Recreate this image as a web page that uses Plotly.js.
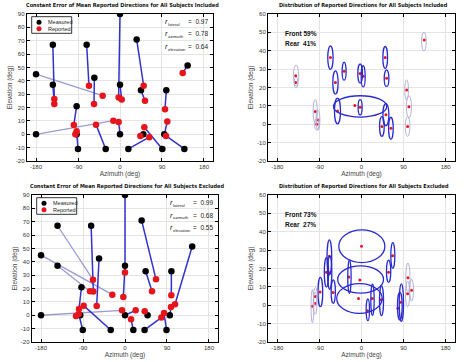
<!DOCTYPE html>
<html><head><meta charset="utf-8">
<script src="https://cdn.plot.ly/plotly-3.0.1.min.js"></script>
<style>html,body{margin:0;padding:0;background:#fff}#c{width:474px;height:362px}</style>
</head><body><div id="c"></div>
<script>
// ---------------- DATA ----------------
const xTicks = [-180, -90, 0, 90, 180];
const yTicksLeft = [-20, -10, 0, 10, 20, 30, 40, 50, 60, 70, 80, 90];
const yTicksRight = [-20, -10, 0, 10, 20, 30, 40, 50, 60];

// All subjects included
const inclMeasAz = [-180, -180, -144, -144, -93, -93, -90, -71.5, -55, -30.7, 0, 0, 0, 17.9, 35.7, 45, 50, 90.7, 95, 99.3, 138, 145];
const inclMeasEl = [0, 45, 67, 37, 21, 0, -11, 67, 42.3, -11, 90, 37, 0, -11, 71, 33, 0, -11, 0, 33, -11, 51.5];
const inclRepAz = [-14.3, -37.2, -140.8, -140.8, -99, -95.7, -93, -66.5, -55.7, -51.4, -2.9, 3.6, -2.9, 62.9, 50.7, 53.6, 43.6, 52.2, 101.4, 96.5, 98.6, 134.4];
const inclRepEl = [10.2, 28.9, 26.4, 22.7, 7, 0, 2.3, 36.3, 22.7, 7.2, 27.6, 26.1, 9.2, -2.2, 36.3, 25.1, -1.2, 5.2, 9.5, 18.7, -1.2, 45.8];
const inclR = ["0.97", "0.78", "0.64"];
const inclEllAz = [-140, -140, -99, -95.7, -93, -66.5, -55.7, -37.2, -51.4, -3, -2.9, -2.9, 3.6, 50.7, 53.6, 52.2, 43.6, 62.9, 96.5, 101.4, 98.6, 133.5];
const inclEllEl = [26.5, 22.7, 7, 0, 2.3, 36.3, 22.7, 28.9, 7.2, 9.7, 9.2, 27.6, 26.1, 36.3, 25.1, 5.2, -1.2, -2.2, 18.7, 9.5, -1.2, 45];
const inclEllRx = [5.7, 4, 4.5, 4.5, 4, 5.7, 5.7, 4.3, 6.4, 57, 4.3, 5, 4.3, 5, 5, 6.4, 5, 5, 4, 5.5, 5, 5];
const inclEllRy = [5.7, 3, 6.5, 3.3, 5.5, 6.4, 6.3, 4.9, 7, 5.8, 4.2, 5.2, 5.8, 6, 4.5, 6, 5.4, 6, 5.5, 6, 5.4, 5.1];

// All subjects excluded
const exclMeasAz = [-180, -180, -144.6, -144.6, -93.3, -96, -90.5, -72.6, -55.6, -30.6, 0, 0, 0, 17.8, 35.6, 44.2, 48.4, 42, 89, 96, 99.5, 144];
const exclMeasEl = [0, 45, 67, 37, 21, 0, -11, 67, 42.5, -11, 90, 37, 0, -11, 71, 33, 0, -11, -11, 0, 33, 51.5];
const exclRepAz = [-6.4, -27.2, -68.6, -75, -98.6, -105, -99.3, -67.9, -60.7, -88.6, 0, -3.6, 22.9, 12.9, 66.5, 57.9, 42.2, 77.9, 83.6, 98.6, 99.3, 107.2];
const exclRepEl = [3.7, 15.4, 26.6, 17.9, 4.7, -0.5, 1, 17.7, 7, 7.2, 32.1, 13.7, 3.7, -3, 26.9, 17.9, 3, -1.7, 1.7, 6.2, 15, 8.2];
const exclR = ["0.99", "0.68", "0.55"];
const exclEllAz = [0.7, -1.9, -4.4, -25.8, -68.7, -75, -68, -60.4, -88, -98.6, -105, -99.3, 13.5, 23.5, 42.8, 58, 67, 82, 85.3, 99.3, 98.6, 107.2];
const exclEllEl = [32.1, 14, 3.7, 15.5, 26.1, 17.9, 17.7, 7.4, 7.2, 4.7, -0.5, 1, -2.5, 3, 2.4, 18.5, 27.1, -0.5, 1.4, 15, 6.2, 8.2];
const exclEllRx = [49.3, 49, 48.6, 3.6, 5, 4.5, 4.5, 4.6, 5, 4, 3, 4, 3.6, 3.6, 4.3, 4.6, 4.3, 5, 4.6, 4.5, 4.5, 4];
const exclEllRy = [8.9, 7.4, 8.1, 9, 9.5, 8, 9, 6.4, 8, 5, 9, 6, 5.9, 8.5, 8.1, 6.1, 7, 7.5, 10.2, 8, 7, 6];

const rNames = ["lateral", "azimuth", "elevation"];

// ---------------- LAYOUT HELPERS ----------------
const W = 474, H = 362;
const px = p => p / W;
const py = p => 1 - p / H;
const BLUE = '#3232cc', LIGHT = '#9a9ad4', RED = '#e8141c';
const ELL_DARK = '#2a2ad2', ELL_LIGHT = '#b0a8d2';
const FONT = 'Liberation Sans, Arial, sans-serif';
const TFONT = 'Liberation Sans Narrow, DejaVu Sans Condensed, Arial Narrow, sans-serif';

const boxes = {
  tl: [26.7, 213.3, 14, 161],
  tr: [268, 455, 14, 161],
  bl: [31.7, 218.3, 195, 342],
  br: [268, 455, 195, 342]
};

function axX(b) {
  return {domain: [px(b[0]), px(b[1])], range: [-200, 200], tickmode: 'array', tickvals: xTicks,
    ticktext: xTicks.map(String), showgrid: true, gridcolor: '#e4e4e4', gridwidth: 1, zeroline: false,
    showline: true, linecolor: '#000', linewidth: 1, mirror: 'ticks', ticks: 'inside', ticklen: 3,
    tickcolor: '#000', tickfont: {size: 6, color: '#333', family: FONT}, fixedrange: true,
    title: {text: 'Azimuth (deg)', font: {size: 6.5, color: '#444', family: FONT}, standoff: 1}};
}
function axY(b, ticks) {
  return {domain: [py(b[3]), py(b[2])], range: [ticks[0], ticks[ticks.length - 1]], tickmode: 'array',
    tickvals: ticks, ticktext: ticks.map(String), showgrid: true, gridcolor: '#e4e4e4', gridwidth: 1,
    zeroline: false, showline: true, linecolor: '#000', linewidth: 1, mirror: 'ticks', ticks: 'inside',
    ticklen: 3, tickcolor: '#000', tickfont: {size: 6, color: '#333', family: FONT}, fixedrange: true,
    title: {text: 'Elevation (deg)', font: {size: 6.5, color: '#444', family: FONT}, standoff: 2}};
}

const traces = [];
const shapes = [];
const annotations = [];

function ann(xp, yp, text, font, anchor) {
  annotations.push({xref: 'paper', yref: 'paper', x: px(xp), y: py(yp), xanchor: anchor || 'left', yanchor: 'middle',
    text: text, showarrow: false, font: font});
}

function errorPanel(b, xa, ya, mAz, mEl, rAz, rEl, rVals, title) {
  const dark = {x: [], y: []}, light = {x: [], y: []};
  for (let i = 0; i < mAz.length; i++) {
    const t = Math.abs(mAz[i] - rAz[i]) > 60 ? light : dark;
    t.x.push(mAz[i], rAz[i], null); t.y.push(mEl[i], rEl[i], null);
  }
  traces.push({x: light.x, y: light.y, xaxis: xa, yaxis: ya, mode: 'lines', line: {color: LIGHT, width: 1.3}, showlegend: false, hoverinfo: 'skip'});
  traces.push({x: dark.x, y: dark.y, xaxis: xa, yaxis: ya, mode: 'lines', line: {color: BLUE, width: 1.5}, showlegend: false, hoverinfo: 'skip'});
  traces.push({x: mAz, y: mEl, xaxis: xa, yaxis: ya, mode: 'markers', marker: {color: '#000', size: 6.5}, showlegend: false, name: 'Measured'});
  traces.push({x: rAz, y: rEl, xaxis: xa, yaxis: ya, mode: 'markers', marker: {color: RED, size: 6.5}, showlegend: false, name: 'Reported'});
  // legend box
  const lx = b[0] + 5, ly = b[2] + 2.7;
  shapes.push({type: 'rect', xref: 'paper', yref: 'paper', x0: px(lx), x1: px(lx + 40), y0: py(ly), y1: py(ly + 16.6), line: {color: '#000', width: 0.8}, fillcolor: '#fff', layer: 'above'});
  [['#000', 'Measured', 5.6], [RED, 'Reported', 12]].forEach(([c, t, dy]) => {
    shapes.push({type: 'circle', xref: 'paper', yref: 'paper', xsizemode: 'pixel', ysizemode: 'pixel',
      xanchor: px(lx + 7.3), yanchor: py(ly + dy), x0: -2.5, x1: 2.5, y0: -2.5, y1: 2.5, fillcolor: c, line: {width: 0}, layer: 'above'});
    ann(lx + 14, ly + dy, t, {size: 5.5, color: '#222', family: FONT});
  });
  // r values
  rVals.forEach((v, i) => {
    const yy = b[2] + 7.5 + i * 12.5;
    ann(b[0] + 136, yy, '<i>r</i>', {size: 7.5, color: '#222', family: FONT});
    ann(b[0] + 139.5, yy + 2.6, rNames[i], {size: 4.3, color: '#222', family: FONT});
    ann(b[0] + 159.5, yy, '=&nbsp;&nbsp;' + v, {size: 6.5, color: '#222', family: FONT});
  });
  addTitle(b, title);
}

function distPanel(b, xa, ya, rAz, rEl, eAz, eEl, eRx, eRy, title) {
  for (let i = 0; i < eAz.length; i++) {
    const rear = Math.abs(eAz[i]) > 90;
    shapes.push({type: 'circle', xref: xa, yref: ya, x0: eAz[i] - eRx[i], x1: eAz[i] + eRx[i], y0: eEl[i] - eRy[i], y1: eEl[i] + eRy[i],
      line: {color: rear ? ELL_LIGHT : ELL_DARK, width: rear ? 0.9 : 1.3}, layer: 'above'});
  }
  traces.push({x: rAz, y: rEl, xaxis: xa, yaxis: ya, mode: 'markers', marker: {color: RED, size: 3}, showlegend: false});
  const front = rAz.filter(a => Math.abs(a) <= 90).length;
  const fp = Math.round(100 * front / rAz.length);
  ann(b[0] + 14.5, b[2] + 19.5, 'Front ' + fp + '%', {size: 6.5, color: '#111', family: FONT, weight: 'bold'});
  ann(b[0] + 14.5, b[2] + 29.5, 'Rear&nbsp;&nbsp;' + (100 - fp) + '%', {size: 6.5, color: '#111', family: FONT, weight: 'bold'});
  addTitle(b, title);
}

function addTitle(b, title) {
  const cx = (b[0] + b[1]) / 2;
  ann(cx + 2, b[2] - 8, title, {size: 5.5, color: '#111', family: TFONT, weight: 'bold'}, 'center');
}

errorPanel(boxes.tl, 'x', 'y', inclMeasAz, inclMeasEl, inclRepAz, inclRepEl, inclR,
  'Constant Error of Mean Reported Directions for All Subjects Included');
distPanel(boxes.tr, 'x2', 'y2', inclRepAz, inclRepEl, inclEllAz, inclEllEl, inclEllRx, inclEllRy,
  'Distribution of Reported Directions for All Subjects Included');
errorPanel(boxes.bl, 'x3', 'y3', exclMeasAz, exclMeasEl, exclRepAz, exclRepEl, exclR,
  'Constant Error of Mean Reported Directions for All Subjects Excluded');
distPanel(boxes.br, 'x4', 'y4', exclRepAz, exclRepEl, exclEllAz, exclEllEl, exclEllRx, exclEllRy,
  'Distribution of Reported Directions for All Subjects Excluded');

const layout = {
  width: W, height: H, margin: {l: 0, r: 0, t: 0, b: 0}, paper_bgcolor: '#fff', plot_bgcolor: '#fff',
  showlegend: false,
  xaxis: Object.assign(axX(boxes.tl), {anchor: 'y'}),
  yaxis: Object.assign(axY(boxes.tl, yTicksLeft), {anchor: 'x'}),
  xaxis2: Object.assign(axX(boxes.tr), {anchor: 'y2'}),
  yaxis2: Object.assign(axY(boxes.tr, yTicksRight), {anchor: 'x2'}),
  xaxis3: Object.assign(axX(boxes.bl), {anchor: 'y3'}),
  yaxis3: Object.assign(axY(boxes.bl, yTicksLeft), {anchor: 'x3'}),
  xaxis4: Object.assign(axX(boxes.br), {anchor: 'y4'}),
  yaxis4: Object.assign(axY(boxes.br, yTicksRight), {anchor: 'x4'}),
  shapes: shapes, annotations: annotations
};
Plotly.newPlot('c', traces, layout, {displayModeBar: false, staticPlot: true});
</script></body></html>
